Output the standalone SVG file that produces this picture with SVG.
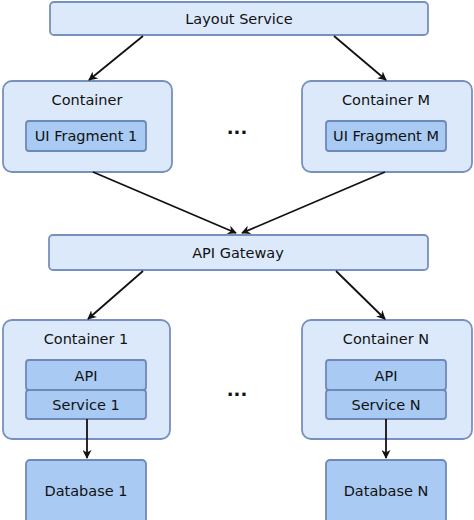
<svg xmlns="http://www.w3.org/2000/svg" width="474" height="520" viewBox="0 0 474 520">
<defs>
<style>
.outer{fill:#dce9fb;stroke:#7890bd;stroke-width:1.8}
.inner{fill:#a9cbf3;stroke:#6f88b8;stroke-width:1.8}
.t{font-family:"DejaVu Sans","Liberation Sans",sans-serif;font-size:14.5px;fill:#111;text-anchor:middle;dominant-baseline:central}
.dots{font-family:"DejaVu Sans",sans-serif;font-size:18px;font-weight:bold;fill:#111;text-anchor:middle}
.c{stroke:#111;stroke-width:1.8;fill:none;marker-end:url(#ah)}
</style>
<marker id="ah" viewBox="0 0 10 10" refX="9" refY="5" markerWidth="9" markerHeight="9" orient="auto" markerUnits="userSpaceOnUse">
<path d="M0,0 L10,5 L0,10 L3,5 Z" fill="#111"/>
</marker>
</defs>
<rect width="474" height="520" fill="#fff"/>

<g id="layout-service">
<rect class="outer" x="50" y="2" width="378" height="33" rx="4"/>
<text class="t" x="239" y="19">Layout Service</text>
</g>

<g id="container">
<rect class="outer" x="3" y="81" width="169" height="91" rx="9"/>
<text class="t" x="87" y="100">Container</text>
</g>
<g id="ui-fragment-1">
<rect class="inner" x="26" y="121" width="120" height="30" rx="3"/>
<text class="t" x="86" y="136">UI Fragment 1</text>
</g>

<g id="container-m">
<rect class="outer" x="302" y="81" width="170" height="91" rx="9"/>
<text class="t" x="386" y="100">Container M</text>
</g>
<g id="ui-fragment-m">
<rect class="inner" x="326" y="121" width="120" height="30" rx="3"/>
<text class="t" x="386" y="136">UI Fragment M</text>
</g>

<g id="dots-top"><text class="dots" x="237" y="134">...</text></g>

<g id="api-gateway">
<rect class="outer" x="49" y="235" width="379" height="35" rx="4"/>
<text class="t" x="238" y="253">API Gateway</text>
</g>

<g id="container-1">
<rect class="outer" x="3" y="320" width="167" height="119" rx="9"/>
<text class="t" x="86" y="339">Container 1</text>
</g>
<g id="api-1">
<rect class="inner" x="26" y="360" width="120" height="30" rx="3"/>
<text class="t" x="86" y="376">API</text>
</g>
<g id="service-1">
<rect class="inner" x="26" y="390" width="120" height="29" rx="3"/>
<text class="t" x="86" y="405">Service 1</text>
</g>

<g id="container-n">
<rect class="outer" x="302" y="320" width="170" height="119" rx="9"/>
<text class="t" x="386" y="339">Container N</text>
</g>
<g id="api-n">
<rect class="inner" x="326" y="360" width="120" height="30" rx="3"/>
<text class="t" x="386" y="376">API</text>
</g>
<g id="service-n">
<rect class="inner" x="326" y="390" width="120" height="29" rx="3"/>
<text class="t" x="386" y="405">Service N</text>
</g>

<g id="dots-bottom"><text class="dots" x="237" y="396">...</text></g>

<g id="database-1">
<rect class="inner" x="26" y="460" width="120" height="64" rx="4"/>
<text class="t" x="86" y="491">Database 1</text>
</g>
<g id="database-n">
<rect class="inner" x="326" y="460" width="120" height="64" rx="4"/>
<text class="t" x="386" y="491">Database N</text>
</g>

<g id="connectors">
<line class="c" x1="143" y1="36" x2="89" y2="80"/>
<line class="c" x1="334" y1="36" x2="386" y2="80"/>
<line class="c" x1="93" y1="172" x2="236" y2="233"/>
<line class="c" x1="385" y1="172" x2="242" y2="233"/>
<line class="c" x1="143" y1="271" x2="88" y2="319"/>
<line class="c" x1="336" y1="271" x2="385" y2="319"/>
<line class="c" x1="87" y1="419" x2="87" y2="458"/>
<line class="c" x1="386" y1="419" x2="386" y2="458"/>
</g>
</svg>
